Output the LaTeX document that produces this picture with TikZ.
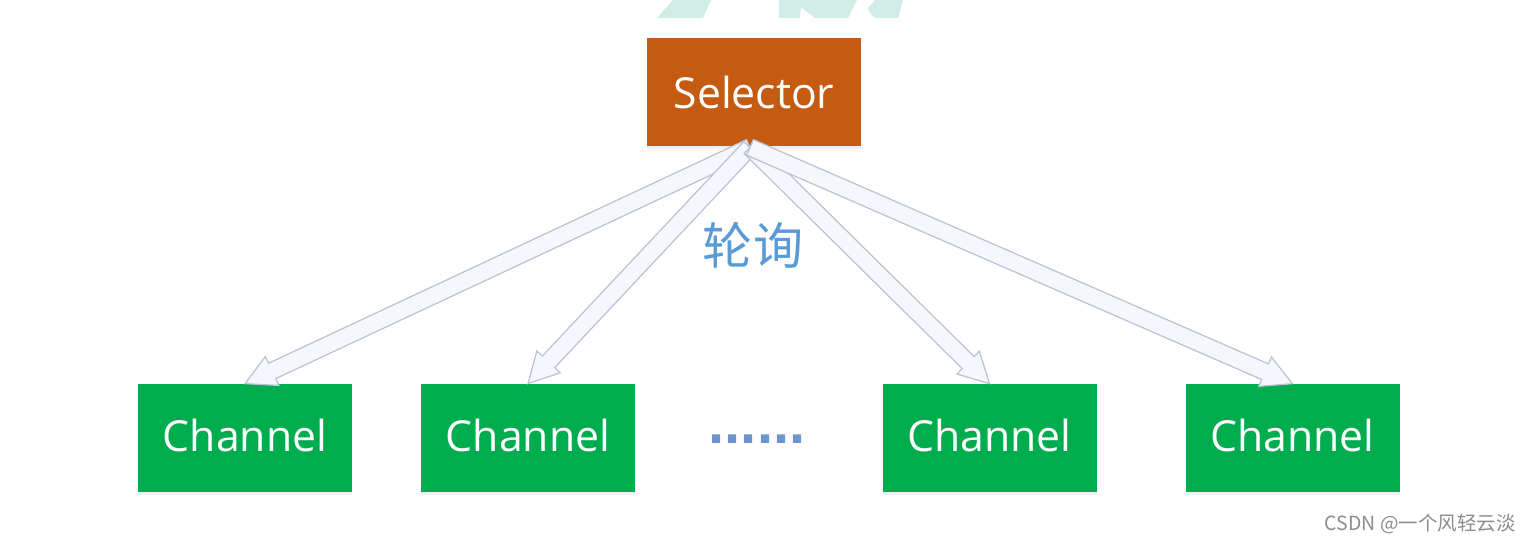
\documentclass[tikz,border=0pt]{standalone}
\usepackage{fontspec}
\setmainfont{Open Sans}
\newfontfamily\cjk{Noto Sans CJK SC}
\newfontfamily\dotfont{Liberation Sans}
\usetikzlibrary{calc,shadows}
\definecolor{selfill}{HTML}{C55A11}
\definecolor{chanfill}{HTML}{00AD4E}
\definecolor{pollblue}{HTML}{5B9BD5}
\definecolor{dotblue}{HTML}{6E94CE}
\definecolor{markteal}{HTML}{CFEDE6}
\definecolor{arrowfill}{HTML}{F5F7FC}
\definecolor{arrowline}{HTML}{B9C3D6}
\tikzset{
	boxnode/.style={minimum width=214*0.02cm,minimum height=108*0.02cm,inner sep=0,text=white,font=\fontsize{24.3}{24.3}\selectfont,
		general shadow={fill=pollblue!15,shadow xshift=0pt,shadow yshift=-1.5pt}},
	channode/.style={boxnode,fill=chanfill,text depth=3.5pt},
	blockarrow/.style={draw=arrowline,fill=arrowfill,line width=0.7pt,line join=miter},
}
\def\blockarrow(#1)(#2){
	\coordinate (base) at ($(#2)!0.6cm!(#1)$);
	\draw[blockarrow] ($(#1)!0.17cm!90:(#2)$) -- ($(base)!0.17cm!-90:(#1)$) -- ($(base)!0.32cm!-90:(#1)$) -- (#2)
		-- ($(base)!0.32cm!90:(#1)$) -- ($(base)!0.17cm!90:(#1)$) -- ($(#1)!0.17cm!-90:(#2)$) -- cycle;
}

\begin{document}
\begin{tikzpicture}[x=0.02cm,y=-0.02cm]
		\useasboundingbox (0, 0) rectangle (1531, 542);
		
		% mark at the top edge
		\fill[markteal] (673, 0) -- (657, 18) -- (703, 18) -- (711, 0) -- cycle;
		\fill[markteal] (779, 0) -- (779, 18) -- (800, 18) -- (801, 7) -- (815, 18) -- (848, 18) -- (857, 0) -- cycle;
		\fill[markteal] (868, 8) -- (870, 13) -- (875, 18) -- (898, 18) -- (903, 0) -- (875, 0) -- cycle;
		
		\node[boxnode,fill=selfill] (selector) at (754, 92) {Selector};
		\node[channode] (chanA) at (245, 438) {Channel};
		\node[channode] (chanB) at (528, 438) {Channel};
		\node[channode] (chanC) at (989.5, 438) {Channel};
		\node[channode] (chanD) at (1292.5, 438) {Channel};
		
		\coordinate (hub) at ([xshift=-0.08cm,yshift=-0.02cm]selector.south);
		
		\blockarrow(hub)(chanA.north)
		\blockarrow(hub)(chanB.north)
		\blockarrow(hub)(chanC.north)
		\blockarrow(hub)(chanD.north)
		
		\node[text=pollblue,font=\cjk\fontsize{28.5}{28.5}\selectfont] (poll) at (753, 245) {轮询};
		\node[text=dotblue,font=\dotfont\bfseries\fontsize{33}{33}\selectfont,anchor=base] (dots) at (757, 443) {......};
		\node[text=black!45,font=\cjk\fontsize{11.1}{11.1}\selectfont,anchor=east,inner sep=0] (credit) at (1516, 524) {CSDN @一个风轻云淡};
	\end{tikzpicture}
\end{document}
